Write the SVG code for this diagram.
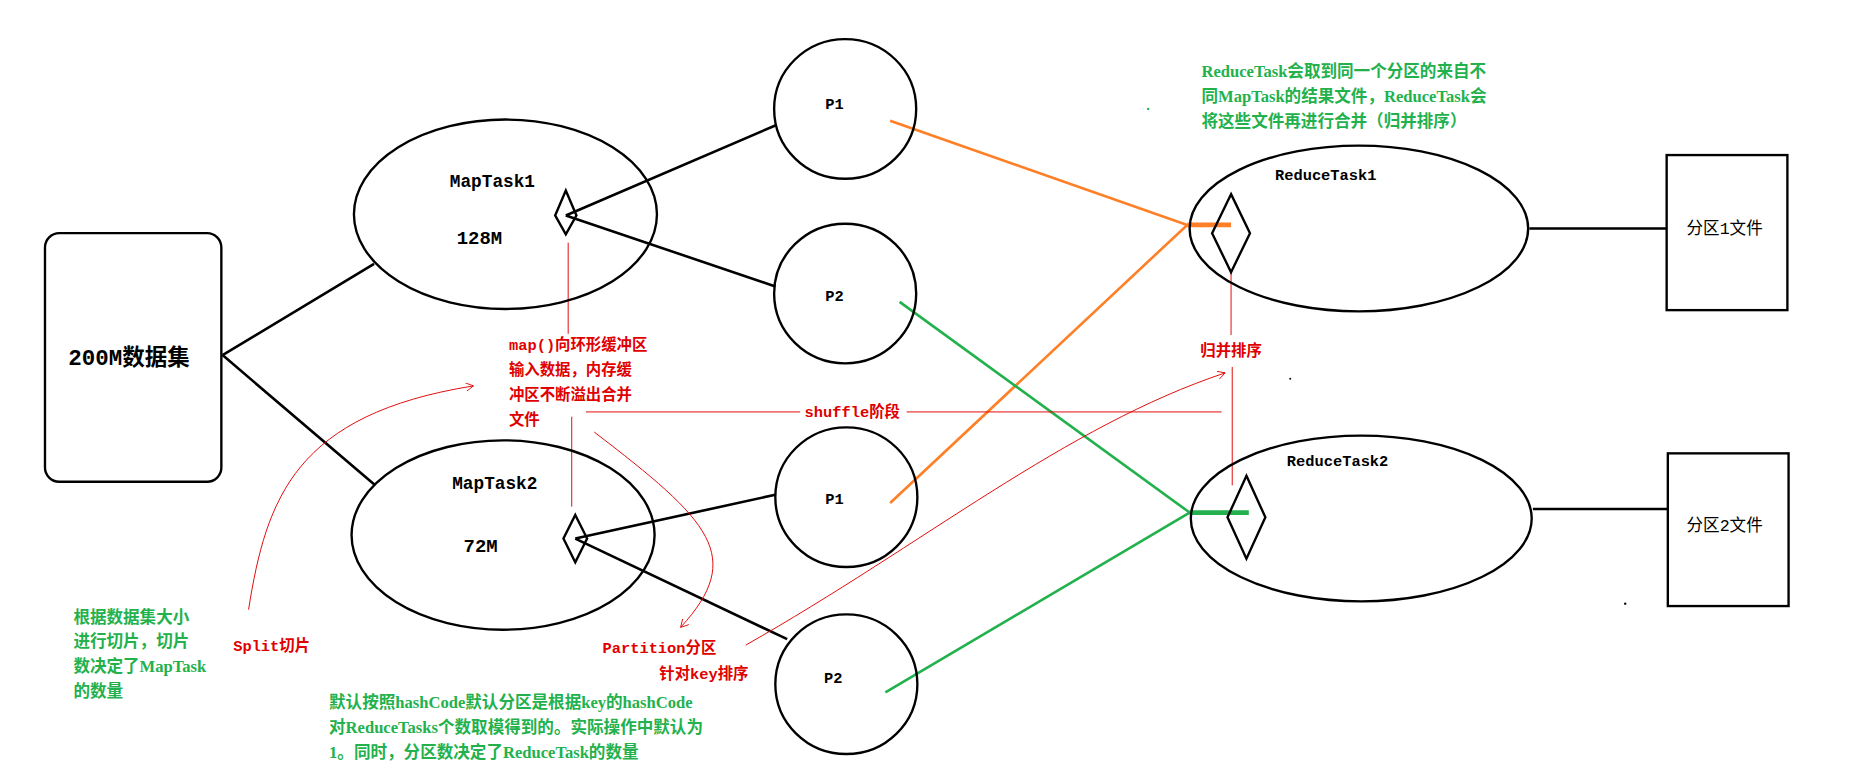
<svg xmlns="http://www.w3.org/2000/svg" width="1856" height="775" viewBox="0 0 1856 775">
<style>
.n{fill:none;stroke:#000;stroke-width:2}
.l{stroke:#000;stroke-width:2.2;fill:none}
.lb{font-family:"Liberation Mono","Noto Sans CJK SC",monospace;font-weight:bold;fill:#000}
.r{font-family:"Liberation Mono","Noto Sans CJK SC",monospace;font-weight:bold;font-size:13px;fill:#e00000}
.g{font-family:"Liberation Serif","Noto Sans CJK SC",serif;font-weight:bold;font-size:14px;fill:#22b14c}
.thin{stroke:#e00000;stroke-width:0.8;fill:none}
</style>
<defs>
<marker id="a" viewBox="0 0 10 10" refX="9" refY="5" markerWidth="9" markerHeight="9" orient="auto"><path d="M0,0 L9,5 L0,10" fill="none" stroke="#e00000" stroke-width="1"/></marker>
</defs>
<rect width="1856" height="775" fill="#fff"/>
<g transform="scale(1.1837)">
<g id="connectors">
<path class="l" d="M188,300 L316,223 M188,300 L317,410"/>
<path class="l" d="M478,182 L655,106 M478,182 L655,242"/>
<path class="l" d="M486,455 L655,418 M486,455 L665,540"/>
<path class="l" d="M1292,193 L1408,193 M1295,430 L1409,430"/>
<path d="M752,102 L1003,190 L752,425" fill="none" stroke="#ff7f27" stroke-width="2.2"/>
<path d="M1003,190 L1040,190" stroke="#ff7f27" stroke-width="4"/>
<path d="M760,255 L1005,433 L748,585" fill="none" stroke="#22b14c" stroke-width="2.2"/>
<path d="M1005,433 L1055,433" stroke="#22b14c" stroke-width="4"/>
<path class="thin" d="M480,205 L480,282 M483,352 L483,428 M1040,228 L1040,283 M1041,310 L1041,410 M495,348 L1032,348"/>
<path class="thin" d="M210,515 C225,420 250,350 400,326" marker-end="url(#a)"/>
<path class="thin" d="M502,365 C600,440 630,470 575,530" marker-end="url(#a)"/>
<path class="thin" d="M630,545 C780,460 900,360 1035,315" marker-end="url(#a)"/>
</g>
<g id="dataset"><rect class="n" x="38" y="197" width="149" height="210" rx="12"/><text class="lb" x="109" y="308" style="font-size:19px" text-anchor="middle">200M数据集</text></g>
<g id="maptask1"><ellipse class="n" cx="427" cy="181" rx="128" ry="80"/><polygon class="n" points="478,161 487,182 478,198 469,182"/><text class="lb" x="416" y="158" style="font-size:15px" text-anchor="middle">MapTask1</text><text class="lb" x="405" y="206" style="font-size:16px" text-anchor="middle">128M</text></g>
<g id="maptask2"><ellipse class="n" cx="425" cy="452" rx="128" ry="80"/><polygon class="n" points="486,435 496,455 486,475 476,455"/><text class="lb" x="418" y="413" style="font-size:15px" text-anchor="middle">MapTask2</text><text class="lb" x="406" y="466" style="font-size:16px" text-anchor="middle">72M</text></g>
<g id="p1a"><ellipse class="n" cx="714" cy="92" rx="60" ry="59"/><text class="lb" x="705" y="92" style="font-size:13px" text-anchor="middle">P1</text></g>
<g id="p2a"><ellipse class="n" cx="714" cy="248" rx="60" ry="59"/><text class="lb" x="705" y="254" style="font-size:13px" text-anchor="middle">P2</text></g>
<g id="p1b"><ellipse class="n" cx="715" cy="420" rx="60" ry="59"/><text class="lb" x="705" y="426" style="font-size:13px" text-anchor="middle">P1</text></g>
<g id="p2b"><ellipse class="n" cx="715" cy="578" rx="60" ry="59"/><text class="lb" x="704" y="577" style="font-size:13px" text-anchor="middle">P2</text></g>
<g id="reducetask1"><ellipse class="n" cx="1148" cy="193" rx="143" ry="70"/><polygon class="n" points="1040,164 1056,197 1040,230 1024,197"/><text class="lb" x="1120" y="152" style="font-size:13px" text-anchor="middle">ReduceTask1</text></g>
<g id="reducetask2"><ellipse class="n" cx="1150" cy="438" rx="144" ry="70"/><polygon class="n" points="1053,402 1069,437 1053,472 1037,437"/><text class="lb" x="1130" y="394" style="font-size:13px" text-anchor="middle">ReduceTask2</text></g>
<g id="file1"><rect class="n" x="1408" y="131" width="102" height="131"/><text class="lb" x="1457" y="198" style="font-size:14px;font-weight:normal" text-anchor="middle">分区1文件</text></g>
<g id="file2"><rect class="n" x="1409" y="383" width="102" height="129"/><text class="lb" x="1457" y="449" style="font-size:14px;font-weight:normal" text-anchor="middle">分区2文件</text></g>
<g id="notes">
<text class="r" x="430" y="296">map()向环形缓冲区</text>
<text class="r" x="430" y="317">输入数据，内存缓</text>
<text class="r" x="430" y="338">冲区不断溢出合并</text>
<text class="r" x="430" y="359">文件</text>
<rect x="676" y="340" width="90" height="16" fill="#fff"/>
<text class="r" x="720" y="352" text-anchor="middle">shuffle阶段</text>
<text class="r" x="1040" y="301" text-anchor="middle">归并排序</text>
<text class="r" x="197" y="550">Split切片</text>
<text class="r" x="509" y="552">Partition分区</text>
<text class="r" x="557" y="574">针对key排序</text>
<text class="g" x="62" y="526">根据数据集大小</text>
<text class="g" x="62" y="547">进行切片，切片</text>
<text class="g" x="62" y="568">数决定了MapTask</text>
<text class="g" x="62" y="589">的数量</text>
<text class="g" x="278" y="598">默认按照hashCode默认分区是根据key的hashCode</text>
<text class="g" x="278" y="619">对ReduceTasks个数取模得到的。实际操作中默认为</text>
<text class="g" x="278" y="640">1。同时，分区数决定了ReduceTask的数量</text>
<text class="g" x="1015" y="65">ReduceTask会取到同一个分区的来自不</text>
<text class="g" x="1015" y="86">同MapTask的结果文件，ReduceTask会</text>
<text class="g" x="1015" y="107">将这些文件再进行合并（归并排序）</text>
<circle cx="970" cy="92" r="1" fill="#22b14c"/>
<circle cx="1373" cy="510" r="1" fill="#000"/>
<circle cx="1090" cy="320" r="0.8" fill="#000"/>
</g>
</g>
</svg>
